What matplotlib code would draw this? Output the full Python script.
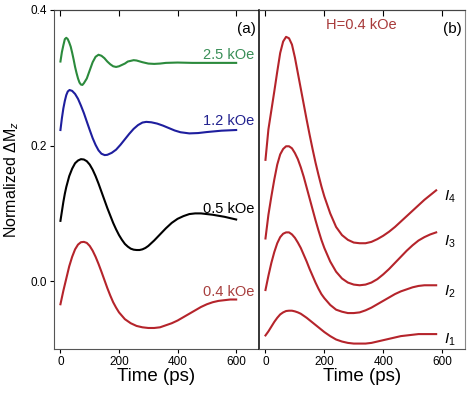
import matplotlib
matplotlib.use("Agg")
import matplotlib.pyplot as plt

plt.rcParams['font.family'] = ['Liberation Sans', 'DejaVu Sans']
plt.rcParams['mathtext.fontset'] = 'custom'
plt.rcParams['mathtext.rm'] = 'Liberation Sans'
plt.rcParams['mathtext.it'] = 'Liberation Sans:italic'

# ---------------- Panel (a) data ----------------
t_green = [0, 5, 10, 15, 20, 25, 30, 35, 40, 45, 50, 55, 60, 65, 70, 75, 80,
           90, 100, 110, 120, 130, 140, 150, 160, 170, 180, 190, 200, 210, 220, 230, 240, 250, 260,
           280, 300, 320, 340, 360, 400, 450, 500, 550, 600]
v_green = [0.324, 0.338, 0.348, 0.357, 0.359, 0.357, 0.352, 0.346, 0.337, 0.327, 0.316, 0.307,
           0.299, 0.293, 0.290, 0.2895, 0.292,
           0.299, 0.311, 0.323, 0.331, 0.334, 0.3325, 0.329, 0.324, 0.320, 0.317, 0.316, 0.317,
           0.319, 0.321, 0.324, 0.325, 0.326, 0.3255,
           0.323, 0.321, 0.3205, 0.321, 0.322, 0.3225, 0.322, 0.322, 0.322, 0.322]

t_blue = [0, 5, 10, 15, 20, 25, 31, 40, 50, 60, 70, 80, 90, 100, 110, 120, 130, 140, 151,
          160, 175, 190, 205, 220, 235, 250, 265, 280, 293, 310, 330, 350, 370, 390, 410, 440,
          470, 500, 550, 600]
v_blue = [0.223, 0.2405, 0.255, 0.266, 0.2746, 0.2798, 0.282, 0.2807, 0.2762, 0.269, 0.259,
          0.248, 0.2354, 0.223, 0.211, 0.201, 0.193, 0.188, 0.186,
          0.1864, 0.1893, 0.194, 0.2012, 0.2093, 0.2174, 0.2247, 0.2303, 0.234, 0.235,
          0.2344, 0.2325, 0.2295, 0.2259, 0.2223, 0.2197, 0.218,
          0.2185, 0.220, 0.222, 0.223]

t_black = [0, 5, 10, 15, 20, 30, 40, 50, 60, 70, 80, 90, 100, 110, 120, 130, 140, 150, 160,
           170, 180, 190, 200, 210, 220, 230, 240, 250, 260, 270, 280, 290, 300, 320, 340, 360,
           380, 400, 420, 440, 460, 480, 500, 520, 560, 600]
v_black = [0.089, 0.103, 0.117, 0.129, 0.139, 0.155, 0.166, 0.174, 0.178, 0.180, 0.1795,
           0.177, 0.172, 0.1645, 0.155, 0.144, 0.132, 0.120, 0.108, 0.097, 0.086, 0.0765,
           0.068, 0.061, 0.055, 0.051, 0.048, 0.0465, 0.046, 0.046, 0.047, 0.049, 0.052,
           0.060, 0.069, 0.078, 0.086, 0.092, 0.096, 0.099, 0.100, 0.100, 0.099, 0.098,
           0.095, 0.091]

t_red = [0, 10, 20, 30, 40, 50, 60, 70, 80, 90, 100, 110, 120, 130, 140, 150, 160, 170, 180,
         190, 200, 220, 240, 260, 280, 300, 320, 340, 360, 380, 400, 420, 440, 460, 480, 500,
         520, 540, 560, 580, 600]
v_red = [-0.034, -0.014, 0.004, 0.022, 0.036, 0.047, 0.054, 0.0575, 0.058, 0.0565, 0.052,
         0.045, 0.036, 0.0255, 0.014, 0.002, -0.010, -0.021, -0.031, -0.039, -0.046, -0.056,
         -0.062, -0.066, -0.068, -0.069, -0.069, -0.068, -0.065, -0.062, -0.058, -0.053,
         -0.048, -0.043, -0.038, -0.034, -0.031, -0.029, -0.028, -0.027, -0.027]

labels_a = ["2.5 kOe", "1.2 kOe", "0.5 kOe", "0.4 kOe"]

# ---------------- Panel (b) data ----------------
t_b = [0, 10, 20, 30, 40, 50, 60, 70, 80, 90, 100, 110, 120, 130, 140, 150, 160, 170, 180,
       190, 200, 220, 240, 260, 280, 300, 320, 340, 360, 380, 400, 420, 440, 460, 480, 500,
       520, 540, 560, 580]
v_I4 = [0.179, 0.224, 0.252, 0.280, 0.309, 0.3366, 0.3535, 0.3604, 0.3583, 0.349, 0.330,
        0.307, 0.284, 0.261, 0.238, 0.216, 0.195, 0.175, 0.157, 0.140, 0.125,
        0.100, 0.080, 0.068, 0.061, 0.057, 0.056, 0.056, 0.058, 0.062, 0.067, 0.073, 0.080,
        0.088, 0.096, 0.104, 0.112, 0.120, 0.127, 0.134]
v_I3 = [0.063, 0.098, 0.125, 0.150, 0.172, 0.187, 0.195, 0.199, 0.199, 0.196, 0.189, 0.180,
        0.168, 0.154, 0.138, 0.122, 0.106, 0.090, 0.075, 0.061, 0.049,
        0.029, 0.014, 0.004, -0.002, -0.005, -0.006, -0.005, -0.002, 0.003, 0.010, 0.018,
        0.027, 0.036, 0.045, 0.053, 0.060, 0.065, 0.069, 0.072]
v_I2 = [-0.013, 0.008, 0.027, 0.043, 0.056, 0.065, 0.070, 0.072, 0.072, 0.069, 0.064, 0.057,
        0.049, 0.039, 0.029, 0.018, 0.008, -0.002, -0.011, -0.019, -0.025,
        -0.035, -0.042, -0.045, -0.047, -0.047, -0.046, -0.043, -0.039, -0.034, -0.029,
        -0.024, -0.019, -0.015, -0.012, -0.009, -0.007, -0.006, -0.006, -0.006]
v_I1 = [-0.080, -0.074, -0.067, -0.060, -0.054, -0.049, -0.046, -0.044, -0.0435, -0.0435,
        -0.0445, -0.046, -0.048, -0.051, -0.054, -0.0575, -0.061, -0.0645, -0.068, -0.0715,
        -0.075, -0.081, -0.086, -0.089, -0.091, -0.092, -0.092, -0.092, -0.091, -0.089,
        -0.087, -0.085, -0.083, -0.081, -0.080, -0.079, -0.078, -0.078, -0.078, -0.078]
labels_b = [r"$I_1$", r"$I_2$", r"$I_3$", r"$I_4$"]

x_ticks = [0, 200, 400, 600]
y_ticks = [0.0, 0.2, 0.4]

GREEN = "#2b8a3c"
BLUE = "#1e1e9e"
RED = "#b5242b"

fig = plt.figure(figsize=(4.74, 3.96), dpi=100)
axA = fig.add_axes([54 / 474, 1 - 349 / 396, (259 - 54) / 474, (349 - 10) / 396])
axB = fig.add_axes([259 / 474, 1 - 349 / 396, (465 - 259) / 474, (349 - 10) / 396])

lw = 1.5
axA.plot(t_green, v_green, color=GREEN, lw=lw)
axA.plot(t_blue, v_blue, color=BLUE, lw=lw)
axA.plot(t_black, v_black, color="black", lw=lw)
axA.plot(t_red, v_red, color=RED, lw=lw)

fs_lab = 10.5
axA.text(662, 0.324, labels_a[0], color="#3a8f58", fontsize=fs_lab, ha="right", va="bottom")
axA.text(662, 0.226, labels_a[1], color="#22228f", fontsize=fs_lab, ha="right", va="bottom")
axA.text(662, 0.096, labels_a[2], color="black", fontsize=fs_lab, ha="right", va="bottom")
axA.text(662, -0.026, labels_a[3], color="#a8403f", fontsize=fs_lab, ha="right", va="bottom")
axA.text(668, 0.372, "(a)", fontsize=11, ha="right", va="center")

for ax in (axA, axB):
    ax.set_xlim(-22, 678)
    ax.set_ylim(-0.1, 0.4)
    ax.set_xticks(x_ticks)
    ax.tick_params(axis="x", direction="out", length=3, labelsize=8.5, pad=2)
    ax.set_xlabel("Time (ps)", fontsize=13.5, labelpad=0)
    top = ax.secondary_xaxis("top")
    top.set_xticks(x_ticks)
    top.tick_params(axis="x", direction="in", length=4, labeltop=False)
    top.spines["top"].set_color("#444444")

axA.set_yticks(y_ticks)
axA.set_yticklabels(["0.0", "0.2", "0.4"])
axA.tick_params(axis="y", direction="out", length=3, labelsize=8.5, pad=2)
axA.set_ylabel(r"Normalized $\Delta$M$_z$", fontsize=11.5, labelpad=7)
axA.spines["right"].set_visible(False)
axA.spines["left"].set_color("#555555")
axA.spines["top"].set_color("#444444")
axA.spines["bottom"].set_color("#555555")

axB.plot(t_b, v_I4, color=RED, lw=lw)
axB.plot(t_b, v_I3, color=RED, lw=lw)
axB.plot(t_b, v_I2, color=RED, lw=lw)
axB.plot(t_b, v_I1, color=RED, lw=lw)
axB.set_yticks([])
axB.spines["left"].set_color("black")
axB.spines["left"].set_linewidth(1.1)
axB.spines["right"].set_color("#888888")
axB.spines["top"].set_color("#444444")
axB.spines["bottom"].set_color("#555555")

fs_I = 11
axB.text(627, -0.086, labels_b[0], fontsize=fs_I, ha="center", va="center")
axB.text(627, -0.016, labels_b[1], fontsize=fs_I, ha="center", va="center")
axB.text(627, 0.058, labels_b[2], fontsize=fs_I, ha="center", va="center")
axB.text(627, 0.124, labels_b[3], fontsize=fs_I, ha="center", va="center")
axB.text(325, 0.378, "H=0.4 kOe", color="#a83a3a", fontsize=10.5, ha="center", va="center")
axB.text(668, 0.372, "(b)", fontsize=11, ha="right", va="center")

fig.savefig("out.png", dpi=100)
